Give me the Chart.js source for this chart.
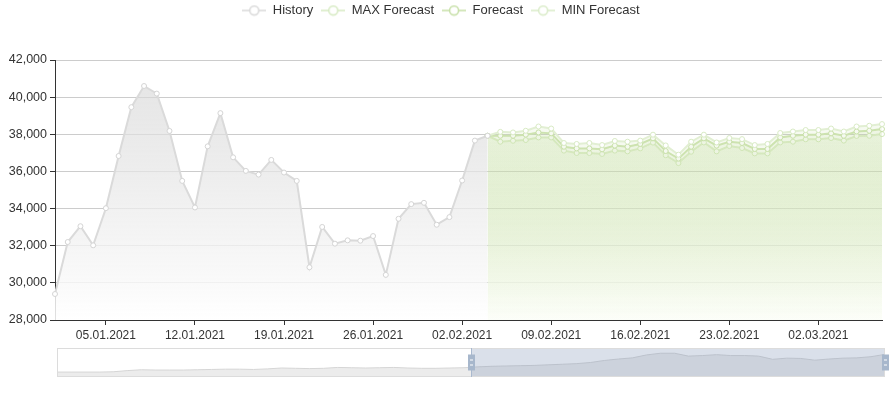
<!DOCTYPE html>
<html><head><meta charset="utf-8">
<script src="https://cdn.jsdelivr.net/npm/chart.js@4/dist/chart.umd.min.js"></script>
<style>
html,body{margin:0;padding:0;background:#fff;}
#wrap{position:relative;width:890px;height:400px;overflow:hidden;}
#main{position:absolute;left:0;top:0;}
#zoom{position:absolute;left:53px;top:346px;}
</style>
</head><body>
<div id="wrap"><canvas id="main" width="890" height="400"></canvas><canvas id="zoom" width="836" height="33"></canvas></div>
<script>
const dates = [
 '01.01.2021','02.01.2021','03.01.2021','04.01.2021','05.01.2021','06.01.2021','07.01.2021','08.01.2021','09.01.2021','10.01.2021',
 '11.01.2021','12.01.2021','13.01.2021','14.01.2021','15.01.2021','16.01.2021','17.01.2021','18.01.2021','19.01.2021','20.01.2021',
 '21.01.2021','22.01.2021','23.01.2021','24.01.2021','25.01.2021','26.01.2021','27.01.2021','28.01.2021','29.01.2021','30.01.2021',
 '31.01.2021','01.02.2021','02.02.2021','03.02.2021','04.02.2021','05.02.2021','06.02.2021','07.02.2021','08.02.2021','09.02.2021',
 '10.02.2021','11.02.2021','12.02.2021','13.02.2021','14.02.2021','15.02.2021','16.02.2021','17.02.2021','18.02.2021','19.02.2021',
 '20.02.2021','21.02.2021','22.02.2021','23.02.2021','24.02.2021','25.02.2021','26.02.2021','27.02.2021','28.02.2021','01.03.2021',
 '02.03.2021','03.03.2021','04.03.2021','05.03.2021','06.03.2021','07.03.2021'
];
const tickLabels = ['05.01.2021','12.01.2021','19.01.2021','26.01.2021','02.02.2021','09.02.2021','16.02.2021','23.02.2021','02.03.2021'];

const historyValues = [
 29400,32200,33050,32020,34020,36830,39460,40600,40190,38180,
 35490,34060,37350,39140,36760,36030,35830,36620,35940,35490,
 30840,33010,32110,32290,32270,32520,30430,33450,34240,34310,
 33130,33540,35510,37660,37920
];
const maxForecastValues = [
 37920,38130,38100,38190,38420,38310,37530,37480,37530,37420,
 37640,37600,37660,37980,37400,36900,37600,37980,37560,37800,
 37740,37420,37480,38070,38150,38230,38230,38310,38150,38420,
 38460,38550
];
const forecastValues = [
 37920,37920,37920,37980,38100,38050,37330,37240,37240,37190,
 37390,37330,37480,37780,37100,36690,37330,37780,37390,37600,
 37530,37210,37210,37830,37920,37980,37980,38050,37920,38150,
 38190,38280
];
const minForecastValues = [
 37920,37600,37650,37690,37830,37830,37120,36990,36990,36940,
 37120,37080,37240,37550,36870,36450,37060,37560,37080,37370,
 37260,36970,36970,37560,37600,37730,37730,37800,37660,37910,
 37920,38010
];
const yMin = 28000, yMax = 42000, yStep = 2000;

// slider (dataZoom) shadow, relative heights
const sliderShadow = [
 0.17,0.17,0.17,0.17,0.18,0.22,0.25,0.24,0.24,0.24,
 0.25,0.26,0.27,0.27,0.26,0.28,0.31,0.30,0.29,0.30,
 0.33,0.32,0.31,0.32,0.33,0.31,0.30,0.30,0.31,0.32,
 0.35,0.37,0.38,0.39,0.40,0.42,0.44,0.46,0.50,0.57,
 0.62,0.66,0.76,0.82,0.82,0.72,0.74,0.77,0.74,0.74,
 0.72,0.61,0.65,0.64,0.58,0.62,0.65,0.66,0.70,0.78
];
const zoomStart = 50, zoomEnd = 100;

const FONT = "'Liberation Sans', Arial, sans-serif";
const forecastFrom = historyValues.length - 1;
const histData = dates.map((d, i) => i < historyValues.length ? historyValues[i] : null);
const padF = arr => dates.map((d, i) => i >= forecastFrom ? arr[i - forecastFrom] : null);

function legendIcon(color) {
  const c = document.createElement('canvas');
  c.width = 24; c.height = 12;
  const x = c.getContext('2d');
  x.strokeStyle = color; x.lineWidth = 1.5;
  x.beginPath(); x.moveTo(0, 6); x.lineTo(24, 6); x.stroke();
  x.beginPath(); x.arc(12, 6, 4.5, 0, Math.PI * 2);
  x.fillStyle = '#fff'; x.fill(); x.lineWidth = 1.5; x.stroke();
  return c;
}
const iconColors = ['#d9d9d9', '#d6eac2', '#c6dfa6', '#d9ebc7'];
const icons = iconColors.map(legendIcon);

function grayFill(ctx) {
  const a = ctx.chart.chartArea; if (!a) return 'rgba(0,0,0,0)';
  const g = ctx.chart.ctx.createLinearGradient(0, a.top, 0, a.bottom);
  g.addColorStop(0, 'rgba(212,212,212,0.62)');
  g.addColorStop(1, 'rgba(255,255,255,0.85)');
  return g;
}
function greenFill(ctx) {
  const a = ctx.chart.chartArea; if (!a) return 'rgba(0,0,0,0)';
  const g = ctx.chart.ctx.createLinearGradient(0, a.top, 0, a.bottom);
  g.addColorStop(0, 'rgba(185,215,145,0.15)');
  g.addColorStop(0.3, 'rgba(190,218,152,0.14)');
  g.addColorStop(1, 'rgba(252,254,248,0.5)');
  return g;
}

const legendGap = {
  id: 'legendGap',
  beforeLayout(chart) {
    const lg = chart.legend;
    if (lg && !lg._gapPatched) {
      const f = lg.fit;
      lg.fit = function () { f.call(this); this.height = 64; };
      lg._gapPatched = true;
    }
  }
};

const ptBase = { pointRadius: 2.5, pointBorderWidth: 1, pointBackgroundColor: '#fff', tension: 0, spanGaps: false };

new Chart(document.getElementById('main'), {
  type: 'line',
  data: {
    labels: dates,
    datasets: [
      Object.assign({ label: 'History', data: histData, borderColor: '#dadada', pointBorderColor: '#d4d4d4',
        borderWidth: 2, fill: 'start', backgroundColor: grayFill }, ptBase),
      Object.assign({ label: 'MAX Forecast', data: padF(maxForecastValues), borderColor: '#e2efd3', pointBorderColor: '#d8eac4',
        borderWidth: 2, fill: 'start', backgroundColor: greenFill }, ptBase),
      Object.assign({ label: 'Forecast', data: padF(forecastValues), borderColor: '#cfe4b3', pointBorderColor: '#c9e0aa',
        borderWidth: 2, fill: 'start', backgroundColor: greenFill }, ptBase),
      Object.assign({ label: 'MIN Forecast', data: padF(minForecastValues), borderColor: '#deedcb', pointBorderColor: '#d4e8bd',
        borderWidth: 2, fill: 'start', backgroundColor: greenFill }, ptBase)
    ]
  },
  options: {
    responsive: false,
    animation: false,
    layout: { padding: { left: 0, right: 8, top: -4, bottom: 55 } },
    plugins: {
      tooltip: { enabled: false },
      legend: {
        position: 'top',
        labels: {
          usePointStyle: true,
          pointStyleWidth: 24,
          padding: 8,
          color: '#333',
          font: { family: FONT, size: 13 },
          generateLabels(chart) {
            const items = Chart.defaults.plugins.legend.labels.generateLabels(chart);
            items.forEach((it, i) => { it.pointStyle = icons[i]; });
            return items;
          }
        }
      }
    },
    scales: {
      x: {
        type: 'category',
        offset: false,
        afterFit(s) { s.height = 25; },
        afterBuildTicks(s) { s.ticks = s.ticks.filter(t => tickLabels.includes(dates[t.value])); },
        grid: { drawOnChartArea: false, drawTicks: true, tickLength: 5, tickColor: '#333' },
        border: { display: true, color: '#333', width: 1 },
        ticks: { autoSkip: false, maxRotation: 0, minRotation: 0, padding: 3, color: '#333', font: { family: FONT, size: 12 } }
      },
      y: {
        min: yMin, max: yMax,
        afterFit(s) { s.width = 55; },
        grid: { color: '#cccccc', drawTicks: true, tickLength: 5, tickColor: '#333' },
        border: { display: true, color: '#333', width: 1 },
        ticks: { stepSize: yStep, padding: 3, color: '#333', font: { family: FONT, size: 12.5 },
          callback: v => Number(v).toLocaleString('en-US') }
      }
    }
  },
  plugins: [legendGap]
});

const sliderOverlay = {
  id: 'sliderOverlay',
  afterDraw(chart) {
    const c = chart.ctx, a = chart.chartArea;
    const w = a.right - a.left;
    const x0 = a.left + w * zoomStart / 100, x1 = a.left + w * zoomEnd / 100;
    c.save();
    c.fillStyle = 'rgba(118,142,178,0.27)';
    c.fillRect(x0, a.top, x1 - x0, a.bottom - a.top);
    c.strokeStyle = '#dcdcdc'; c.lineWidth = 1;
    c.strokeRect(a.left + 0.5, a.top + 0.5, w - 1, a.bottom - a.top - 1);
    c.strokeStyle = '#a9b9cf';
    c.beginPath(); c.moveTo(Math.round(x0) + 0.5, a.top); c.lineTo(Math.round(x0) + 0.5, a.bottom); c.stroke();
    const mid = (a.top + a.bottom) / 2;
    [x0, x1].forEach(x => {
      c.fillStyle = '#a7b7cc';
      c.fillRect(Math.round(x) - 3, mid - 8, 7, 16);
      c.strokeStyle = '#ffffff'; c.lineWidth = 1;
      c.beginPath();
      c.moveTo(Math.round(x) - 1, mid - 2.5); c.lineTo(Math.round(x) + 2, mid - 2.5);
      c.moveTo(Math.round(x) - 1, mid + 2.5); c.lineTo(Math.round(x) + 2, mid + 2.5);
      c.stroke();
    });
    c.restore();
  }
};

new Chart(document.getElementById('zoom'), {
  type: 'line',
  data: {
    labels: sliderShadow.map((v, i) => i),
    datasets: [{ data: sliderShadow, borderColor: '#d6d6d6', borderWidth: 1, pointRadius: 0,
      fill: 'start', backgroundColor: '#ececec', tension: 0 }]
  },
  options: {
    responsive: false, animation: false,
    layout: { padding: { left: 4, right: 4, top: 2, bottom: 2 } },
    plugins: { legend: { display: false }, tooltip: { enabled: false } },
    scales: { x: { display: false, offset: false }, y: { display: false, min: 0, max: 1 } }
  },
  plugins: [sliderOverlay]
});
</script>
</body></html>
